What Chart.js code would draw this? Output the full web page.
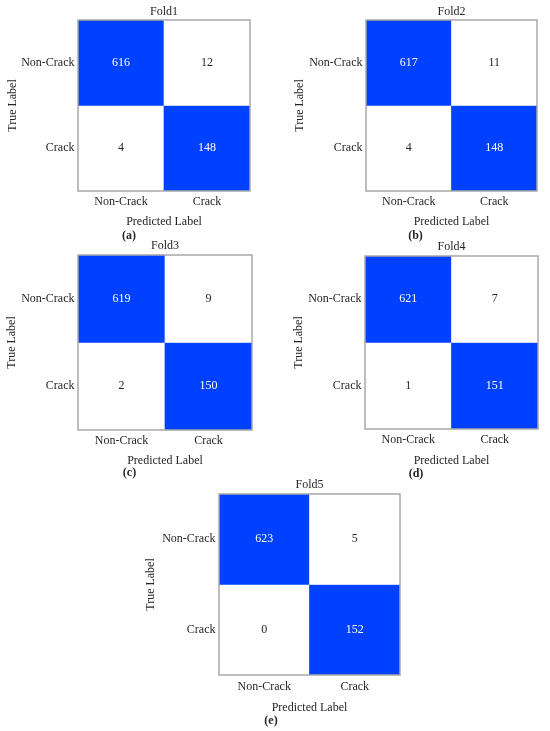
<!DOCTYPE html>
<html lang="en">
<head>
    <meta charset="UTF-8">
    <title>Confusion matrices - 5 folds</title>
    <script src="https://cdn.jsdelivr.net/npm/chart.js"></script>
    <style>
        body, html {
            margin: 0;
            padding: 0;
            background: #fff;
        }
        .page {
            position: relative;
            width: 550px;
            height: 731px;
            overflow: hidden;
        }
        .panel {
            position: absolute;
        }
    </style>
</head>
<body>
    <div class="page" id="page"></div>

    <script>
        // Categories
        const predLabels = ['Non-Crack', 'Crack'];
        const trueLabels = ['Non-Crack', 'Crack'];
        const foldTitles = ['Fold1', 'Fold2', 'Fold3', 'Fold4', 'Fold5'];
        const panelTags = ['(a)', '(b)', '(c)', '(d)', '(e)'];

        // Counts: rows = true label, columns = predicted label
        const fold1 = [[616, 12], [4, 148]];
        const fold2 = [[617, 11], [4, 148]];
        const fold3 = [[619, 9], [2, 150]];
        const fold4 = [[621, 7], [1, 151]];
        const fold5 = [[623, 5], [0, 152]];
        const folds = [fold1, fold2, fold3, fold4, fold5];

        // Where each panel sits on the page: plot box and centres of the texts round it
        const panelLayout = [
            { left: 78,  top: 20,  right: 250, bottom: 191, yTitleX: 13,    tagX: 129,   titleY: 11.7,  tickY: 202,   xTitleY: 221.7, tagY: 235.5 },
            { left: 366, top: 20,  right: 537, bottom: 191, yTitleX: 300,   tagX: 415.5, titleY: 11.7,  tickY: 202,   xTitleY: 221.7, tagY: 235.5 },
            { left: 78,  top: 255, right: 252, bottom: 430, yTitleX: 12,    tagX: 129.5, titleY: 246.2, tickY: 440.7, xTitleY: 461.3, tagY: 473 },
            { left: 365, top: 256, right: 538, bottom: 429, yTitleX: 298.5, tagX: 416,   titleY: 246.8, tickY: 440.3, xTitleY: 461,   tagY: 473.5 },
            { left: 219, top: 494, right: 400, bottom: 675, yTitleX: 150.5, tagX: 271,   titleY: 485,   tickY: 686.7, xTitleY: 707.5, tagY: 720.5 }
        ];

        const BLUE = '#0040ff';
        const INK = '#262626';
        const LH = 14.4;       // 12px font, line height 1.2
        const HALF = LH / 2;

        Chart.defaults.font.family = "'Liberation Serif', 'Times New Roman', serif";
        Chart.defaults.font.size = 12;
        Chart.defaults.color = INK;

        // colour by share of the true-label row (recall), two-step map
        function cellColor(value, row) {
            const total = row.reduce((s, v) => s + v, 0);
            return value / total >= 0.5 ? BLUE : '#ffffff';
        }

        // writes the count in the middle of each cell
        const cellValues = {
            id: 'cellValues',
            afterDatasetsDraw(chart) {
                const ctx = chart.ctx;
                ctx.save();
                ctx.font = "12px 'Liberation Serif', 'Times New Roman', serif";
                ctx.textAlign = 'center';
                ctx.textBaseline = 'middle';
                chart.data.datasets.forEach((ds, i) => {
                    chart.getDatasetMeta(i).data.forEach((bar, j) => {
                        ctx.fillStyle = ds.backgroundColor[j] === BLUE ? '#ffffff' : INK;
                        ctx.fillText(String(ds.values[j]), bar.x, (bar.y + bar.base) / 2);
                    });
                });
                ctx.restore();
            }
        };

        // grey frame round the plot area
        const frame = {
            id: 'frame',
            afterDraw(chart) {
                const a = chart.chartArea;
                const ctx = chart.ctx;
                ctx.save();
                ctx.strokeStyle = '#a8a8a8';
                ctx.lineWidth = 1.5;
                ctx.strokeRect(a.left, a.top, a.right - a.left, a.bottom - a.top);
                ctx.restore();
            }
        };

        const page = document.getElementById('page');

        folds.forEach((matrix, k) => {
            const p = panelLayout[k];

            // canvas box worked out so the plot area lands on p
            const regionLeft = 2 * p.tagX - p.right;
            const cLeft = regionLeft - 4;
            const cWidth = p.right - regionLeft + 8;
            const cTop = p.top - 20;
            const titlePadTop = p.titleY - cTop - HALF;
            const titlePadBottom = p.top - cTop - LH - titlePadTop;
            const xTickPad = p.tickY - p.bottom - HALF;
            const xScaleBottom = p.xTitleY + HALF;
            const xScaleHeight = xScaleBottom - p.bottom;
            const tagPadTop = p.tagY - xScaleBottom - HALF;
            const tagPadBottom = 2;
            const needed = xScaleBottom - cTop + tagPadTop + LH + tagPadBottom;
            const cHeight = Math.ceil(needed);

            const box = document.createElement('div');
            box.className = 'panel';
            box.style.left = cLeft + 'px';
            box.style.top = cTop + 'px';
            box.style.width = cWidth + 'px';
            box.style.height = cHeight + 'px';
            const canvas = document.createElement('canvas');
            box.appendChild(canvas);
            page.appendChild(box);

            const nRows = trueLabels.length;
            const datasets = trueLabels.map((row, r) => {
                const yPos = nRows - 1 - r;   // first row on top
                return {
                    label: row,
                    data: predLabels.map(() => [yPos, yPos + 1]),
                    values: matrix[r],
                    backgroundColor: matrix[r].map(v => cellColor(v, matrix[r])),
                    borderWidth: 0,
                    grouped: false,
                    barPercentage: 1,
                    categoryPercentage: 1
                };
            });

            new Chart(canvas, {
                type: 'bar',
                data: { labels: predLabels, datasets: datasets },
                options: {
                    responsive: true,
                    maintainAspectRatio: false,
                    animation: false,
                    layout: {
                        padding: { left: 4, right: 4, top: 0, bottom: cHeight - needed }
                    },
                    scales: {
                        x: {
                            grid: { display: false, drawTicks: false },
                            border: { display: false },
                            ticks: { padding: xTickPad, color: INK, maxRotation: 0 },
                            title: {
                                display: true,
                                text: 'Predicted Label',
                                color: INK,
                                padding: { top: 0, bottom: 0 }
                            },
                            afterFit(scale) { scale.height = xScaleHeight; }
                        },
                        y: {
                            min: 0,
                            max: nRows,
                            grid: { display: false, drawTicks: false },
                            border: { display: false },
                            afterBuildTicks(axis) {
                                axis.ticks = trueLabels.map((_, i) => ({ value: i + 0.5 }));
                            },
                            ticks: {
                                padding: 3.5,
                                color: INK,
                                callback: (value) => trueLabels[nRows - 1 - Math.floor(value)]
                            },
                            title: {
                                display: true,
                                text: 'True Label',
                                color: INK,
                                padding: { top: p.yTitleX - regionLeft - HALF, bottom: 0 }
                            },
                            afterFit(scale) { scale.width = p.left - regionLeft; }
                        }
                    },
                    plugins: {
                        legend: { display: false },
                        tooltip: { enabled: false },
                        title: {
                            display: true,
                            text: foldTitles[k],
                            fullSize: false,
                            color: INK,
                            font: { size: 12, weight: 'normal' },
                            padding: { top: titlePadTop, bottom: titlePadBottom }
                        },
                        subtitle: {
                            display: true,
                            text: panelTags[k],
                            position: 'bottom',
                            fullSize: true,
                            color: INK,
                            font: { size: 12, weight: 'bold' },
                            padding: { top: tagPadTop, bottom: tagPadBottom }
                        }
                    }
                },
                plugins: [cellValues, frame]
            });
        });
    </script>
</body>
</html>
